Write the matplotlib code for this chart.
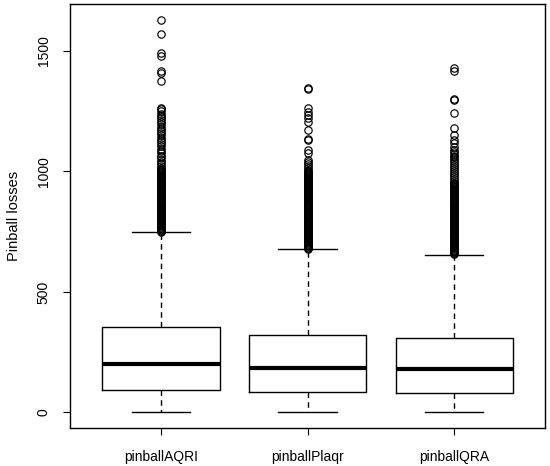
import matplotlib
matplotlib.use("Agg")
import matplotlib.pyplot as plt

plt.rcParams['font.family'] = ['Liberation Sans', 'DejaVu Sans']

# boxplot summary
labels = ['pinballAQRI', 'pinballPlaqr', 'pinballQRA']
q1 = [91, 83, 80]
med = [201, 184, 179]
q3 = [353, 320, 310]
whislo = [0, 0, 0]
whishi = [747, 677, 655]

# outliers (estimated), the low end is packed so densely it prints solid
out_aqri = [1630, 1570, 1490, 1478, 1415, 1408, 1375,
            1265, 1258, 1250, 1240, 1232, 1222, 1214, 1204, 1195, 1186,
            1176, 1168, 1158, 1150, 1140, 1130, 1122, 1112, 1104, 1094,
            1085, 1075, 1066, 1058, 1048, 1040, 1030, 1022,
            1014, 1006, 998, 990, 982, 974, 966, 958, 950, 942, 934, 926,
            918, 910, 902, 894, 886, 878, 870, 862, 854, 846, 838, 830,
            822, 814, 806, 798, 790, 782, 774, 766, 758, 750,
            754, 762, 770, 778, 786, 794, 802, 810, 818, 826, 834, 842,
            850, 858, 866, 874, 882, 890, 898, 906, 914, 922, 930, 938,
            946, 954, 962, 970, 978, 986, 994, 1002, 1010]
out_plaqr = [1345, 1341, 1262, 1248, 1234, 1220, 1207, 1172, 1135, 1132,
             1089, 1075,
             1046, 1040, 1032, 1024, 1016, 1008, 1000, 992, 984, 976, 968,
             960, 952, 944, 936, 928, 920, 912, 904, 896, 888, 880, 872,
             864, 856, 848, 840, 832, 824, 816, 808, 800, 792, 784, 776,
             768, 760, 752, 744, 736, 728, 720, 712, 704, 696, 688, 680,
             684, 692, 700, 708, 716, 724, 732, 740, 748, 756, 764, 772,
             780, 788, 796, 804, 812, 820, 828, 836, 844, 852, 860, 868,
             876, 884, 892, 900, 908, 916, 924, 932, 940, 948, 956, 964,
             972, 980, 988, 996]
out_qra = [1428, 1418, 1302, 1298, 1241, 1179, 1151, 1130, 1116, 1102, 1089,
           1082, 1074, 1066, 1058, 1050, 1042, 1034, 1026, 1018, 1010, 1002,
           994, 986, 978, 970, 962, 954, 946, 938, 930, 922, 914, 906, 898,
           890, 882, 874, 866, 858, 850, 842, 834, 826, 818, 810, 802, 794,
           786, 778, 770, 762, 754, 746, 738, 730, 722, 714, 706, 698, 690,
           682, 674, 666, 658,
           662, 670, 678, 686, 694, 702, 710, 718, 726, 734, 742, 750, 758,
           766, 774, 782, 790, 798, 806, 814, 822, 830, 838, 846, 854, 862,
           870, 878, 886, 894, 902, 910, 918, 926, 934, 942, 950]
outliers = [out_aqri, out_plaqr, out_qra]

stats = []
for i in range(len(labels)):
    stats.append({'label': labels[i], 'q1': q1[i], 'med': med[i], 'q3': q3[i],
                  'whislo': whislo[i], 'whishi': whishi[i], 'fliers': outliers[i]})

fig = plt.figure(figsize=(5.5, 4.66), dpi=100)
ax = fig.add_axes([0.1273, 0.0815, 0.8637, 0.9099])

ax.bxp(stats, positions=[1, 2, 3], widths=0.8, capwidths=0.4,
       boxprops=dict(color='black', linewidth=1.0),
       medianprops=dict(color='black', linewidth=3.0, solid_capstyle='butt'),
       whiskerprops=dict(color='black', linewidth=1.0, linestyle=(0, (4, 3))),
       capprops=dict(color='black', linewidth=1.0),
       flierprops=dict(marker='o', markerfacecolor='none', markeredgecolor='black',
                       markersize=5.3, markeredgewidth=0.85, linestyle='none'))

ax.set_xlim(0.38, 3.62)
ax.set_ylim(-65, 1695)
ax.set_yticks([0, 500, 1000, 1500])
ax.set_xticks([1, 2, 3])
ax.set_xticklabels(labels)
ax.tick_params(axis='y', labelrotation=90, length=5, pad=9, labelsize=10)
ax.tick_params(axis='x', length=5, pad=11, labelsize=10)
for lab in ax.get_yticklabels():
    lab.set_va('center')
ax.set_ylabel('Pinball losses', fontsize=10.5, labelpad=11)
for s in ax.spines.values():
    s.set_linewidth(1.0)

fig.savefig('out.png', dpi=100)
